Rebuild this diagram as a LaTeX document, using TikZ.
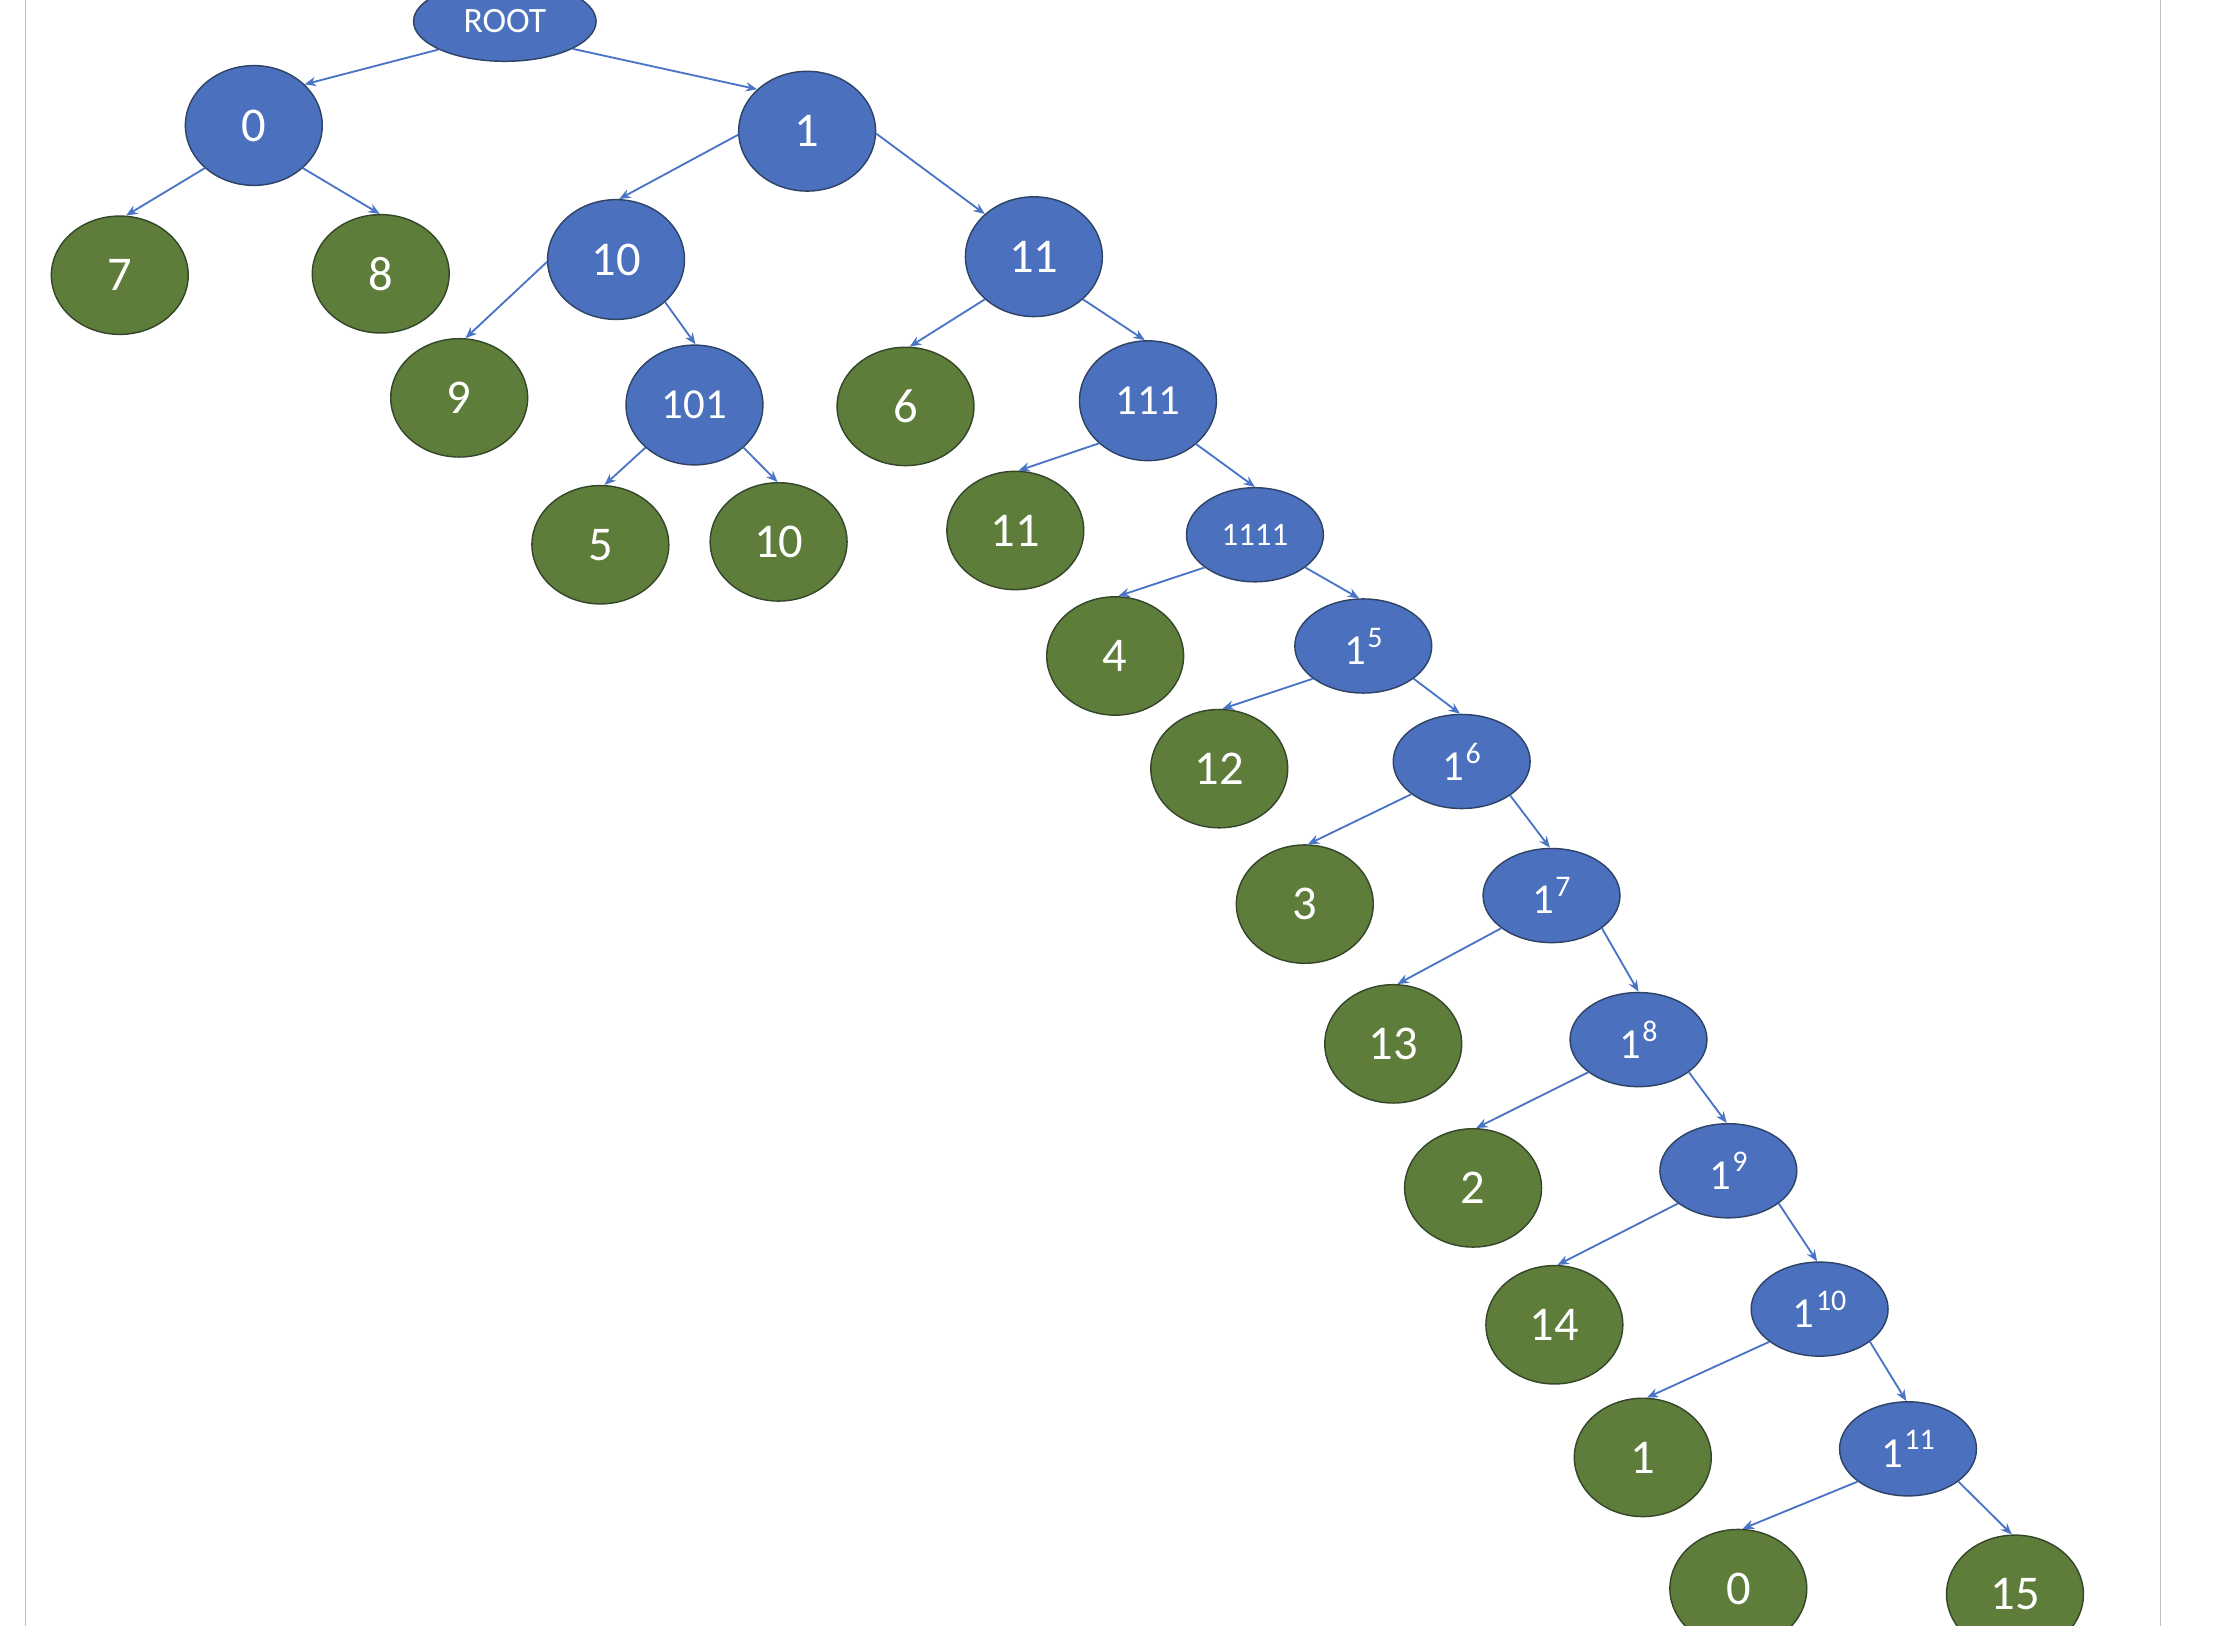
\documentclass[tikz,border=0pt]{standalone}
\usepackage{fontspec}
\setmainfont{Carlito}
\usetikzlibrary{shapes.geometric,arrows.meta}
\definecolor{nblue}{HTML}{4A70BE}
\definecolor{nborder}{HTML}{2E4366}
\definecolor{ngreen}{HTML}{5E7D3A}
\definecolor{gborder}{HTML}{34472A}
\definecolor{eblue}{HTML}{4A74C6}
\tikzset{
  bnode/.style={ellipse, fill=nblue, draw=nborder, line width=1pt, text=white, inner sep=0pt,
    minimum width=96pt, minimum height=84pt, font=\fontsize{34}{34}\selectfont},
  bsmall/.style={bnode, minimum height=66pt, font=\fontsize{30}{30}\selectfont},
  gnode/.style={ellipse, fill=ngreen, draw=gborder, line width=1pt, text=white, inner sep=0pt,
    minimum width=96pt, minimum height=83pt, font=\fontsize{34}{34}\selectfont},
  conn/.style={draw=eblue, line width=1.3pt, -{Stealth[length=8pt,width=6.5pt]}},
  frame/.style={draw=black!25, line width=1pt}
}
\newcommand{\pw}[1]{1\kern1pt\raisebox{12pt}{\fontsize{21}{21}\selectfont #1}}
\begin{document}
\begin{tikzpicture}[x=1pt,y=-1pt]
\useasboundingbox (0,0) rectangle (1568,1140);
\draw[frame] (18,0) -- (18,1140);
\draw[frame] (1515,0) -- (1515,1140);

\node[bnode, minimum width=128pt, minimum height=56pt, font=\fontsize{25}{25}\selectfont] (root) at (354,15) {ROOT};
\node[bnode] (n0) at (178,88) {0};
\node[bnode] (n1) at (566,92) {1};
\node[gnode] (l7) at (84,193) {7};
\node[gnode] (l8) at (267,192) {8};
\node[bnode] (n10) at (432,182) {10};
\node[bnode] (n11) at (725,180) {11};
\node[gnode] (l9) at (322,279) {9};
\node[bnode, font=\fontsize{30}{30}\selectfont] (n101) at (487,284) {101};
\node[gnode] (l6) at (635,285) {6};
\node[bnode, font=\fontsize{30}{30}\selectfont] (n111) at (805,281) {111};
\node[gnode] (l5) at (421,382) {5};
\node[gnode] (l10) at (546,380) {10};
\node[gnode] (l11) at (712,372) {11};
\node[bsmall, font=\fontsize{23}{23}\selectfont] (n1111) at (880,375) {1111};
\node[gnode] (l4) at (782,460) {4};
\node[bsmall] (p5) at (956,453) {\pw{5}};
\node[gnode] (l12) at (855,539) {12};
\node[bsmall] (p6) at (1025,534) {\pw{6}};
\node[gnode] (l3) at (915,634) {3};
\node[bsmall] (p7) at (1088,628) {\pw{7}};
\node[gnode] (l13) at (977,732) {13};
\node[bsmall] (p8) at (1149,729) {\pw{8}};
\node[gnode] (l2) at (1033,833) {2};
\node[bsmall] (p9) at (1212,821) {\pw{9}};
\node[gnode] (l14) at (1090,929) {14};
\node[bsmall] (p10) at (1276,918) {\pw{10}};
\node[gnode] (l1) at (1152,1022) {1};
\node[bsmall] (p11) at (1338,1016) {\pw{11}};
\node[gnode] (l0) at (1219,1114) {0};
\node[gnode] (l15) at (1413,1118) {15};

\draw[conn] (root.203) -- (n0.39);
\draw[conn] (root.338) -- (n1.140);
\draw[conn] (n0.221) -- (l7.84);
\draw[conn] (n0.319) -- (l8.91);
\draw[conn] (n1.183) -- (n10.87);
\draw[conn] (n1.358) -- (n11.139);
\draw[conn] (n10.182) -- (l9.84);
\draw[conn] (n10.319) -- (n101.89);
\draw[conn] (n11.221) -- (l6.86);
\draw[conn] (n11.319) -- (n111.93);
\draw[conn] (n101.221) -- (l5.86);
\draw[conn] (n101.319) -- (l10.91);
\draw[conn] (n111.221) -- (l11.87);
\draw[conn] (n111.318) -- (n1111.90);
\draw[conn] (n1111.213) -- (l4.87);
\draw[conn] (n1111.327) -- (p5.95);
\draw[conn] (p5.213) -- (l12.87);
\draw[conn] (p5.327) -- (p6.92);
\draw[conn] (p6.213) -- (l3.87);
\draw[conn] (p6.325) -- (p7.92);
\draw[conn] (p7.213) -- (l13.86);
\draw[conn] (p7.327) -- (p8.90);
\draw[conn] (p8.213) -- (l2.87);
\draw[conn] (p8.327) -- (p9.92);
\draw[conn] (p9.213) -- (l14.87);
\draw[conn] (p9.327) -- (p10.93);
\draw[conn] (p10.213) -- (l1.86);
\draw[conn] (p10.327) -- (p11.92);
\draw[conn] (p11.213) -- (l0.86);
\draw[conn] (p11.327) -- (l15.93);
\end{tikzpicture}
\end{document}
